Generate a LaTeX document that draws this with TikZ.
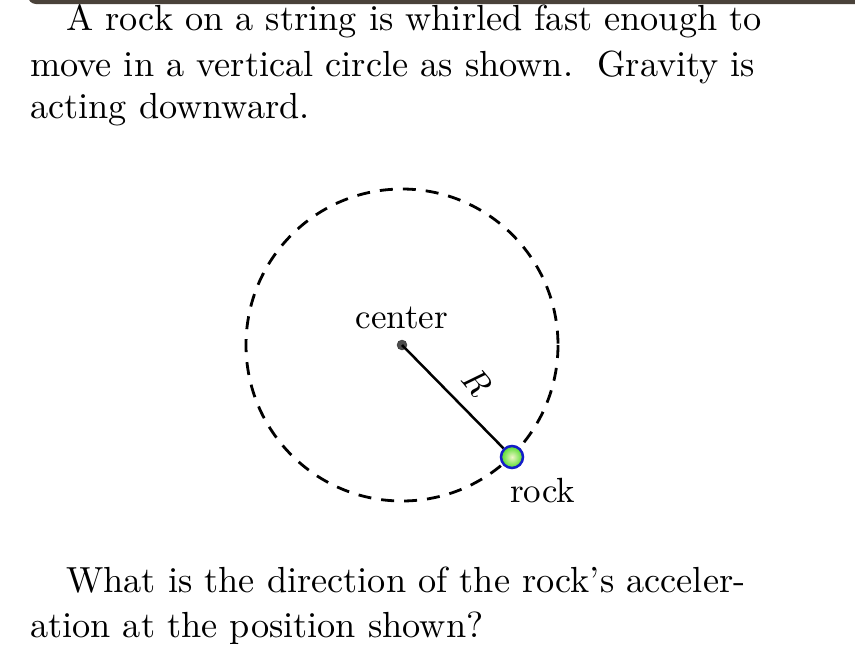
\documentclass[tikz,border=0pt]{standalone}
\usepackage{fontspec}
\newfontfamily\lmten{lmroman10-regular}[Extension=.otf,ItalicFont=lmroman10-italic]
\begin{document}
\begin{tikzpicture}[x=1pt,y=-1pt,
  txt/.style={anchor=base west,inner sep=0pt,font=\lmten\fontsize{36.3}{45}\selectfont},
  lbl/.style={inner sep=0pt,font=\lmten\fontsize{35}{37}\selectfont}]
\useasboundingbox (0,0) rectangle (855,662);
\fill[fill={rgb,255:red,74;green,66;blue,58},rounded corners=8pt] (28,-20) rectangle (875,4);
\node[txt] (l1) at (66,30) {A rock on a string is whirled fast enough to};
\node[txt] (l2) at (30,76) {move in a vertical circle as shown.\ \ Gravity is};
\node[txt] (l3) at (30,118) {acting downward.};
\node[txt] (l4) at (66,592) {What is the direction of the rock’s acceler-};
\node[txt] (l5) at (30,637) {ation at the position shown?};
\coordinate (c) at (402,345);
\draw[line width=2.8pt,dash pattern=on 13pt off 10pt] (c) circle (156);
\node[circle,fill=black!70,draw=black!80,minimum size=10pt,inner sep=0pt] (cd) at (c) {};
\node[circle,draw={rgb,255:red,20;green,30;blue,200},line width=2.5pt,inner color={rgb,255:red,240;green,245;blue,200},outer color={rgb,255:red,80;green,220;blue,40},minimum size=22pt,inner sep=0pt] (rock) at (512,457) {};
\draw[line width=2.5pt] (cd.center) -- (rock);
\node[lbl,anchor=base] (cl) at (402,328) {center};
\node[lbl,anchor=base west] (rl) at (510,502) {rock};
\node[lbl,rotate=-50] (R) at (477,382) {\itshape R};
\end{tikzpicture}
\end{document}
